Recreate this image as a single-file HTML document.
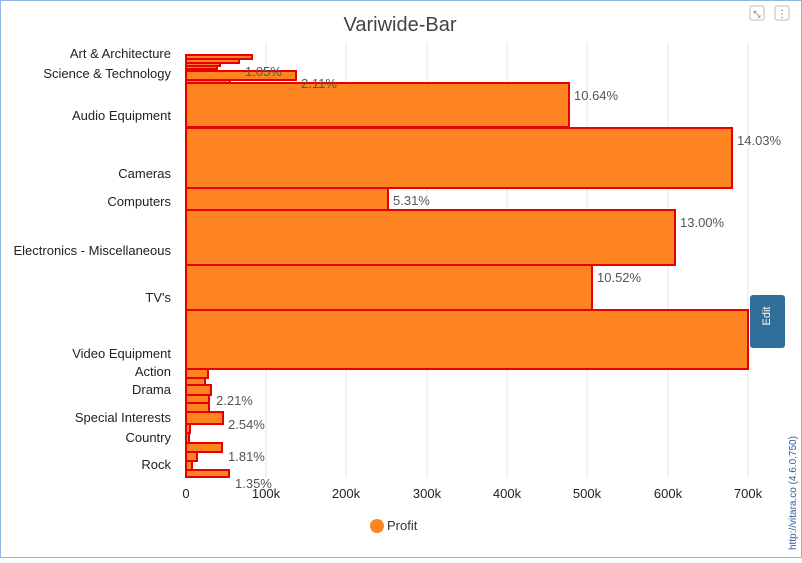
<!DOCTYPE html><html><head><style>
body{margin:0;width:802px;height:558px;background:#fff;font-family:"Liberation Sans",sans-serif;overflow:hidden}
</style></head><body>
<svg width="802" height="558" xmlns="http://www.w3.org/2000/svg" font-family="Liberation Sans, sans-serif">
<rect x="0.5" y="0.5" width="801" height="557" fill="#fff" stroke="#8fb8e0"/>
<text x="400" y="31" text-anchor="middle" font-size="20" fill="#444">Variwide-Bar</text>
<rect x="750" y="6" width="14" height="14" fill="#fff" stroke="#bbb" rx="2"/><text x="757" y="17" font-size="9" text-anchor="middle" fill="#555">⤡</text>
<rect x="775" y="6" width="14" height="14" fill="#fff" stroke="#bbb" rx="2"/><text x="782" y="17" font-size="10" text-anchor="middle" fill="#555">⋮</text>
<g stroke="#e6e6e6"><line x1="266" y1="42" x2="266" y2="478"/><line x1="346" y1="42" x2="346" y2="478"/><line x1="427" y1="42" x2="427" y2="478"/><line x1="507" y1="42" x2="507" y2="478"/><line x1="587" y1="42" x2="587" y2="478"/><line x1="668" y1="42" x2="668" y2="478"/><line x1="748" y1="42" x2="748" y2="478"/></g>
<g fill="#fd8421" stroke="#e60000" stroke-width="2">
<rect x="186" y="55" width="66" height="4"/><rect x="186" y="59" width="53" height="4"/><rect x="186" y="63" width="34" height="3"/><rect x="186" y="66" width="31" height="3"/><rect x="186" y="71" width="110" height="9"/><rect x="186" y="80" width="44" height="3"/>
<rect x="186" y="83" width="383" height="44"/><rect x="186" y="128" width="546" height="60"/><rect x="186" y="188" width="202" height="22"/><rect x="186" y="210" width="489" height="55"/><rect x="186" y="265" width="406" height="45"/><rect x="186" y="310" width="562" height="59"/>
<rect x="186" y="369" width="22" height="9"/><rect x="186" y="378" width="19" height="7"/><rect x="186" y="385" width="25" height="10"/><rect x="186" y="395" width="23" height="8"/><rect x="186" y="403" width="23" height="9"/><rect x="186" y="412" width="37" height="12"/><rect x="186" y="424" width="4" height="9"/><rect x="186" y="433" width="3" height="10"/><rect x="186" y="443" width="36" height="9"/><rect x="186" y="452" width="11" height="9"/><rect x="186" y="461" width="6" height="9"/><rect x="186" y="470" width="43" height="7"/>
</g>
<g font-size="13" fill="#555">
<text x="245" y="76">1.05%</text><text x="301" y="88">2.11%</text><text x="574" y="100">10.64%</text><text x="737" y="145">14.03%</text><text x="393" y="205">5.31%</text><text x="680" y="227">13.00%</text><text x="597" y="282">10.52%</text>
<text x="216" y="405">2.21%</text><text x="228" y="429">2.54%</text><text x="228" y="461">1.81%</text><text x="235" y="488">1.35%</text>
</g>
<g font-size="13" fill="#222" text-anchor="end">
<text x="171" y="58">Art &amp; Architecture</text><text x="171" y="78">Science &amp; Technology</text><text x="171" y="120">Audio Equipment</text><text x="171" y="178">Cameras</text><text x="171" y="206">Computers</text><text x="171" y="255">Electronics - Miscellaneous</text><text x="171" y="302">TV's</text><text x="171" y="358">Video Equipment</text><text x="171" y="376">Action</text><text x="171" y="394">Drama</text><text x="171" y="422">Special Interests</text><text x="171" y="442">Country</text><text x="171" y="469">Rock</text>
</g>
<g font-size="13" fill="#222" text-anchor="middle">
<text x="186" y="498">0</text><text x="266" y="498">100k</text><text x="346" y="498">200k</text><text x="427" y="498">300k</text><text x="507" y="498">400k</text><text x="587" y="498">500k</text><text x="668" y="498">600k</text><text x="748" y="498">700k</text>
</g>
<circle cx="377" cy="526" r="7" fill="#fd8421"/><text x="387" y="530" font-size="13" fill="#333">Profit</text>
<rect x="750" y="295" width="35" height="53" rx="3" fill="#2f6f9a"/>
<text x="770" y="316" font-size="11" fill="#fff" transform="rotate(-90 770 316)" text-anchor="middle">Edit</text>
<text x="796" y="550" font-size="10" fill="#2a5b9a" transform="rotate(-90 796 550)">http://vitara.co  (4.6.0.750)</text>
</svg>
</body></html>
